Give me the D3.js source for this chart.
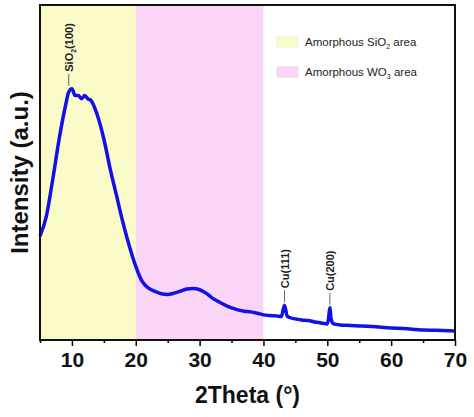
<!DOCTYPE html>
<html><head><meta charset="utf-8">
<script src="https://cdn.jsdelivr.net/npm/d3@7"></script>
<style>body{margin:0;background:#fff}</style>
</head><body>
<div id="chart"></div>
<script>
// 数据
var theta = [5,6,7,8,9,9.5,10,10.5,11,11.5,12,12.5,13,14,15,16,17,18,19,20,21,22,23,24,25,26,27,28,29,30,31,32,33,34,35,36,37,38,39,40,41,42,42.8,43.3,43.7,44,45,46,47,48,49,50,50.2,50.4,50.6,51,52,53,55,57,60,62,65,67,70];
var intensity = [31,37,48,60,70,74,75,73,73,72,73,72,71.5,67,60,51,43,35,28,22,17.5,15.5,14.5,13.8,13.6,14,14.6,15.2,15.4,15,14,12.5,11.4,10.4,9.6,9,8.6,8.4,8,7.5,7.3,7.2,7,10.4,7.2,6.8,6.3,6,5.8,5.4,5.1,4.8,6.5,9.6,6.2,4.8,4.5,4.4,4.2,4,3.6,3.4,3,2.9,2.7];
var xTicks = [10,20,30,40,50,60,70];
var bands = [{from:5,to:20,color:"#fbfac9",label:"Amorphous SiO",sub:"2"},{from:20,to:40,color:"#fbd5f6",label:"Amorphous WO",sub:"3"}];
var peaks = [{x:9.5,y:75,name:"SiO",sub:"2",rest:"(100)"},{x:43.3,y:10.4,name:"Cu(111)"},{x:50.4,y:9.6,name:"Cu(200)"}];

var W = 474, H = 417;
var margin = {top:5, right:19, bottom:77, left:40};
var pw = W - margin.left - margin.right, ph = H - margin.top - margin.bottom;
var svg = d3.select('#chart').append('svg').attr('width',W).attr('height',H)
  .style('font-family','Liberation Sans, Arial, sans-serif');
var g = svg.append('g').attr('transform',`translate(${margin.left},${margin.top})`);
var x = d3.scaleLinear().domain([5,70]).range([0,pw]);
var y = d3.scaleLinear().domain([0,100]).range([ph,0]);

// 背景区域
g.selectAll('.band').data(bands).join('rect')
  .attr('x',d=>x(d.from)).attr('width',d=>x(d.to)-x(d.from))
  .attr('y',0).attr('height',ph).attr('fill',d=>d.color);

// 曲线
var line = d3.line().x((d,i)=>x(theta[i])).y(d=>y(d)).curve(d3.curveMonotoneX);
g.append('path').datum(intensity).attr('d',line)
  .attr('fill','none').attr('stroke','#1010e8').attr('stroke-width',3.5).attr('stroke-linejoin','round');

// 峰标注
peaks.forEach(function(p){
  var px = x(p.x), py = y(p.y) - 3;
  g.append('line').attr('x1',px).attr('x2',px).attr('y1',py).attr('y2',py-12)
    .attr('stroke','#666').attr('stroke-width',1);
  var t = g.append('text').attr('transform',`translate(${px+4},${py-14}) rotate(-90)`)
    .attr('font-size',11).attr('font-weight','bold').attr('fill','#222').text(p.name);
  if(p.sub){
    t.append('tspan').attr('font-size',7).attr('dy',3).text(p.sub);
    t.append('tspan').attr('dy',-3).text(p.rest);
  }
});

// 坐标轴
var xAxis = d3.axisBottom(x).tickValues(xTicks).tickSize(6).tickPadding(6).tickFormat(d3.format('d'));
var gx = g.append('g').attr('transform',`translate(0,${ph})`).call(xAxis);
gx.selectAll('text').attr('font-size',21).attr('font-weight','bold').attr('fill','#111');
gx.select('.domain').remove();
g.append('g').attr('transform',`translate(0,${ph})`)
  .call(d3.axisBottom(x).tickValues([5,15,25,35,45,55,65]).tickSize(3).tickFormat(''))
  .select('.domain').remove();
g.selectAll('.tick line').attr('stroke-width',1.5);
g.append('rect').attr('width',pw).attr('height',ph).attr('fill','none')
  .attr('stroke','#111').attr('stroke-width',2);

svg.append('text').attr('x',margin.left+pw/2).attr('y',403).attr('text-anchor','middle')
  .attr('font-size',23).attr('font-weight','bold').attr('fill','#111').text('2Theta (°)');
svg.append('text').attr('transform',`translate(28,${margin.top+ph/2}) rotate(-90)`).attr('text-anchor','middle')
  .attr('font-size',24).attr('font-weight','bold').attr('fill','#111').text('Intensity (a.u.)');

// 图例
var lg = svg.selectAll('.lg').data(bands).join('g').attr('transform',(d,i)=>`translate(277,${37+i*30})`);
lg.append('rect').attr('width',21).attr('height',10).attr('fill',d=>d.color).attr('stroke',d=>d3.color(d.color).darker(0.3)).attr('stroke-width',0.5);
var lt = lg.append('text').attr('x',28).attr('y',9).attr('font-size',11.5).attr('fill','#222').text(d=>d.label);
lt.append('tspan').attr('font-size',7).attr('dy',3).text(d=>d.sub);
lt.append('tspan').attr('dy',-3).text(' area');
</script>
</body></html>
